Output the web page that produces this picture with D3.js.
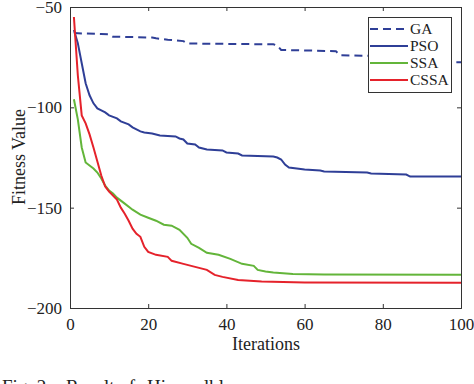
<!DOCTYPE html>
<html>
<head>
<meta charset="utf-8">
<script src="https://cdn.jsdelivr.net/npm/d3@7"></script>
<style>
  body { margin: 0; background: #fff; }
  svg { display: block; font-family: "Liberation Serif", "Times New Roman", serif; }
</style>
</head>
<body>
<div id="chart"></div>
<script>
// values: [iteration, fitness]
var gaData = [[1,-63],[8,-63.5],[10,-63.6],[11,-64.8],[21,-65.2],[22,-65.6],[25,-66.3],[29,-67],[30,-68.2],[52,-68.6],[53,-69.2],[54,-71.4],[68,-72],[69,-74],[80,-74.5],[82,-77.5],[100,-77.5]];
var psoData = [[1,-61.5],[2,-68],[3,-78],[4,-88],[5,-94],[6,-98],[7,-100.5],[8,-101.5],[9,-102.5],[10,-104],[12,-105.5],[13,-107],[15,-108.5],[16,-110],[18,-112],[19,-112.5],[21,-113],[23,-114],[27,-114.5],[28,-115.5],[29,-116],[30,-118],[32,-118.5],[33,-120],[35,-121],[39,-121.5],[40,-122.5],[43,-123],[44,-124],[52,-124.5],[53,-125],[54,-126],[55,-128.5],[56,-130],[58,-130.5],[60,-131],[64,-131.5],[65,-132],[76,-132.5],[77,-133],[86,-133.5],[87,-134.5],[100,-134.5]];
var ssaData = [[1,-96],[2,-106],[3,-120],[4,-127.5],[5,-129],[6,-130.5],[7,-132.5],[8,-135.5],[9,-139],[10,-141.5],[11,-143],[12,-145],[14,-148],[16,-151],[18,-153.5],[20,-155],[22,-156.5],[24,-158.5],[26,-159],[28,-161],[30,-165],[31,-168],[33,-170],[35,-172.5],[38,-173.5],[41,-175.5],[44,-178],[47,-179],[48,-181],[50,-181.8],[52,-182.3],[57,-183],[65,-183.3],[100,-183.4]];
var cssaData = [[1,-55],[2,-84],[3,-104],[4,-108],[5,-113.5],[6,-120],[7,-127],[8,-134],[9,-139.5],[10,-142],[12,-146],[13,-150],[14,-153],[15,-156.5],[16,-160.5],[17,-163],[18,-164.5],[19,-169.5],[20,-172],[22,-173.5],[25,-174.5],[26,-176.5],[29,-178],[32,-179.5],[35,-181],[37,-183.5],[39,-184.5],[43,-186],[49,-186.8],[60,-187.3],[100,-187.4]];

var seriesNames = ["GA", "PSO", "SSA", "CSSA"];
var xTicks = [0, 20, 40, 60, 80, 100];
var yTicks = [-200, -150, -100, -50];

var width = 474, height = 384;
// plot box (note: "top" is a reserved global in browsers)
var plotL = 70, plotR = 461, plotT = 7, plotB = 308;

var svg = d3.select("#chart").append("svg")
    .attr("width", width)
    .attr("height", height);

var x = d3.scaleLinear().domain([0, 100]).range([plotL, plotR]);
var y = d3.scaleLinear().domain([-200, -50]).range([plotB, plotT]);

var axisColor = "#333";
var serif = "Liberation Serif";

// lines first, box on top
var line = d3.line()
    .x(d => x(d[0]))
    .y(d => y(d[1]));

var series = [
  {name: "GA", data: gaData, color: "#2f3f97", dash: "8,5"},
  {name: "PSO", data: psoData, color: "#2f3f97", dash: null},
  {name: "SSA", data: ssaData, color: "#63b53a", dash: null},
  {name: "CSSA", data: cssaData, color: "#e5222b", dash: null}
];

series.forEach(s => {
  svg.append("path")
    .datum(s.data)
    .attr("d", line)
    .attr("fill", "none")
    .attr("stroke", s.color)
    .attr("stroke-width", 2)
    .attr("stroke-dasharray", s.dash);
});

// axes, matlab style ticks pointing inward
var tickLen = 4;
function styleText(g) {
  g.attr("font-family", serif).attr("font-size", 17);
  g.selectAll("text").attr("fill", "#222");
}
svg.append("g")
  .attr("transform", `translate(0,${plotB})`)
  .call(d3.axisBottom(x).tickValues(xTicks).tickSize(-tickLen).tickPadding(10))
  .call(styleText);
svg.append("g")
  .attr("transform", `translate(0,${plotT})`)
  .call(d3.axisTop(x).tickValues(xTicks).tickSize(-tickLen).tickFormat(""));
svg.append("g")
  .attr("transform", `translate(${plotL},0)`)
  .call(d3.axisLeft(y).tickValues(yTicks).tickSize(-tickLen).tickPadding(8))
  .call(styleText);
svg.append("g")
  .attr("transform", `translate(${plotR},0)`)
  .call(d3.axisRight(y).tickValues(yTicks).tickSize(-tickLen).tickFormat(""));

svg.selectAll(".domain").attr("stroke", axisColor);
svg.selectAll(".tick line").attr("stroke", axisColor);

// axis labels
svg.append("text")
  .attr("x", 266).attr("y", 350)
  .attr("text-anchor", "middle")
  .attr("font-size", 18)
  .attr("fill", "#222")
  .text("Iterations");

svg.append("text")
  .attr("transform", "translate(25,157) rotate(-90)")
  .attr("text-anchor", "middle")
  .attr("font-size", 18)
  .attr("fill", "#222")
  .text("Fitness Value");

// caption, mostly cut off at bottom
var cap = svg.append("g").attr("font-size", 19).attr("fill", "#222");
cap.append("text").attr("x", 2).attr("y", 393).text("Fig. 2");
cap.append("text").attr("x", 66).attr("y", 393).text("Result of");
cap.append("text").attr("x", 147).attr("y", 393).text("Himmelblaus");

// legend
var lg = svg.append("g");
lg.append("rect")
  .attr("x", 368.5).attr("y", 17.5)
  .attr("width", 83).attr("height", 75)
  .attr("fill", "#fff")
  .attr("stroke", axisColor);

series.forEach((s, i) => {
  var ly = 29 + i * 17;
  lg.append("line")
    .attr("x1", 370).attr("x2", 408)
    .attr("y1", ly).attr("y2", ly)
    .attr("stroke", s.color)
    .attr("stroke-width", 2)
    .attr("stroke-dasharray", s.dash);
  lg.append("text")
    .attr("x", 410).attr("y", ly + 5)
    .attr("font-size", 15.5)
    .attr("fill", "#222")
    .text(seriesNames[i]);
});
</script>
</body>
</html>
